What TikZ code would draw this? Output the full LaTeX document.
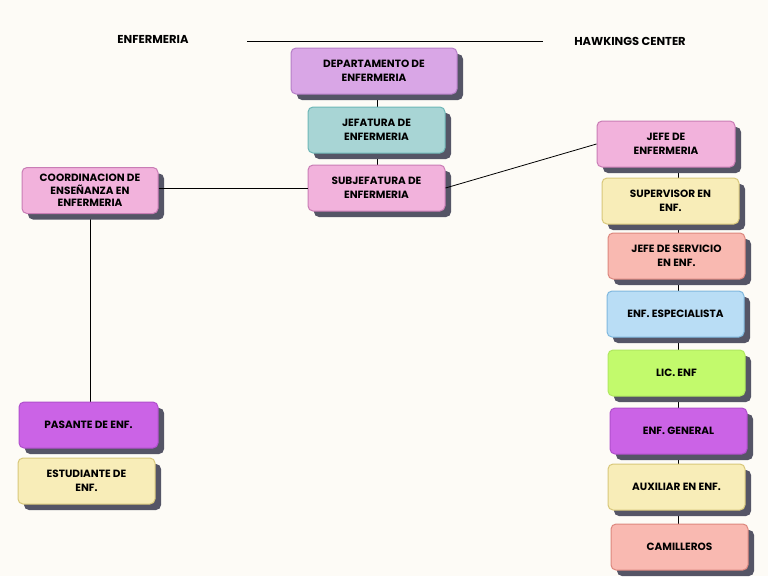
\documentclass[tikz,border=0pt]{standalone}
\usepackage{fontspec}
\setmainfont{Poppins}
\definecolor{bg}{HTML}{FDFBF6}
\definecolor{shd}{HTML}{555566}
\definecolor{vioF}{HTML}{D9A6E6}\definecolor{vioD}{HTML}{B57FC7}
\definecolor{tealF}{HTML}{A8D5D5}\definecolor{tealD}{HTML}{6FB7B7}
\definecolor{pinkF}{HTML}{F2B2DC}\definecolor{pinkD}{HTML}{C97DB5}
\definecolor{yelF}{HTML}{F8EDB8}\definecolor{yelD}{HTML}{D8C77A}
\definecolor{salF}{HTML}{F9B9B1}\definecolor{salD}{HTML}{DC877E}
\definecolor{bluF}{HTML}{B9DDF5}\definecolor{bluD}{HTML}{7FB8DE}
\definecolor{limF}{HTML}{C2FA6C}\definecolor{limD}{HTML}{B0E860}
\definecolor{purF}{HTML}{CB63E6}\definecolor{purD}{HTML}{B050CC}
\usetikzlibrary{shadows}
\tikzset{
 box/.style={rounded corners=5pt,minimum width=137pt,minimum height=46pt,align=center,
   font=\bfseries\fontsize{10.5}{13.5}\selectfont,line width=1pt,inner sep=2pt,
   drop shadow={shadow xshift=6pt,shadow yshift=-6pt,fill=shd,opacity=1}},
 c/.style={draw=#1D,fill=#1F},
 ln/.style={line width=0.8pt,black}
}
\begin{document}
\begin{tikzpicture}[x=1pt,y=-1pt]
\fill[bg] (0,0) rectangle (768,576);
\useasboundingbox (0,0) rectangle (768,576);
\draw[ln] (247,41) -- (543,41);
\node[font=\bfseries\fontsize{11.5}{13}\selectfont] (t1) at (153,39) {ENFERMERIA};
\node[font=\bfseries\fontsize{11.5}{13}\selectfont] (t2) at (630,41) {HAWKINGS CENTER};
\coordinate (rt) at (678,167);
\coordinate (rb) at (678,524);
\draw[ln,thin] (rt) -- (rb);
\coordinate (lt) at (90,213);
\coordinate (lb) at (90,402);
\draw[ln,thin] (lt) -- (lb);
\coordinate (dv1) at (377,94);
\coordinate (dv2) at (377,165);
\draw[ln,thin] (dv1) -- (dv2);
\node[box,c=vio,minimum width=166pt] (dep) at (374,71) {DEPARTAMENTO DE\\ENFERMERIA};
\node[box,c=teal] (jef) at (376.5,130) {JEFATURA DE\\ENFERMERIA};
\node[box,c=pink] (sub) at (376.5,188) {SUBJEFATURA DE\\ENFERMERIA};
\node[box,c=pink,minimum width=136pt,font=\bfseries\fontsize{10.5}{12.5}\selectfont] (coo) at (90,190.5) {COORDINACION DE\\ENSEÑANZA EN\\ENFERMERIA};
\node[box,c=pink,minimum width=138pt] (jen) at (666,144) {JEFE DE\\ENFERMERIA};
\node[box,c=yel] (sup) at (670.5,201) {SUPERVISOR EN\\ENF.};
\node[box,c=sal] (jse) at (676.5,256) {JEFE DE SERVICIO\\EN ENF.};
\node[box,c=blu] (esp) at (675.5,314) {ENF. ESPECIALISTA};
\node[box,c=lim] (lic) at (676.5,373) {LIC. ENF};
\node[box,c=pur] (gen) at (678.5,431) {ENF. GENERAL};
\node[box,c=yel] (aux) at (676.5,487) {AUXILIAR EN ENF.};
\node[box,c=sal] (cam) at (679.5,547) {CAMILLEROS};
\node[box,c=pur,minimum width=139pt] (pas) at (88.5,425) {PASANTE DE ENF.};
\node[box,c=yel] (est) at (86.5,481) {ESTUDIANTE DE\\ENF.};
\draw[ln] (coo.east |- sub.west) -- (sub.west);
\draw[ln] (sub.east) -- (jen.west);
\end{tikzpicture}
\end{document}
